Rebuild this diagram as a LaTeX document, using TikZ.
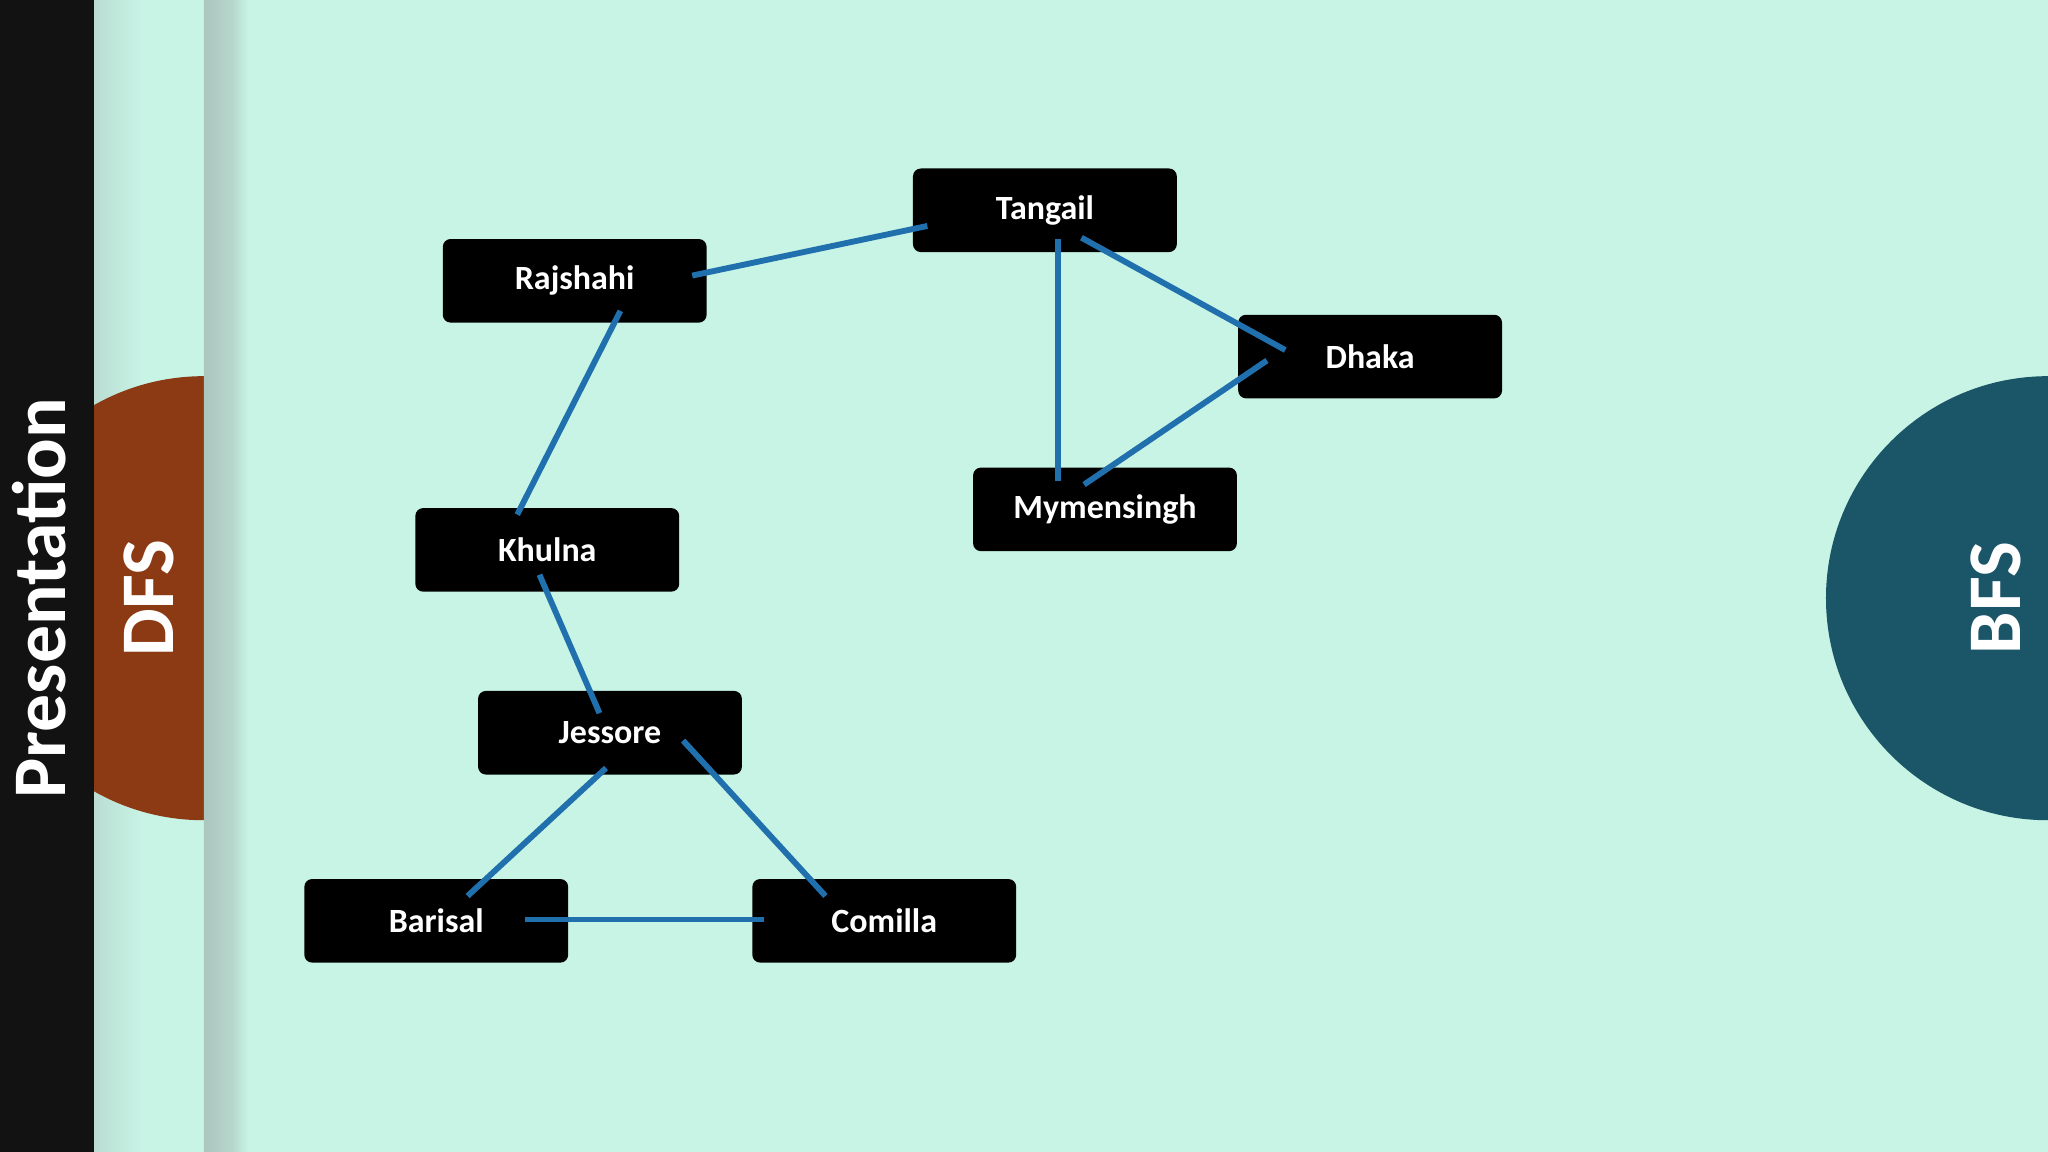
\documentclass[tikz,border=0pt]{standalone}
\usepackage{fontspec}
\setmainfont{Carlito}
\usetikzlibrary{calc}
\definecolor{bg}{HTML}{C8F4E6}
\definecolor{brn}{HTML}{8B3A14}
\definecolor{tealc}{HTML}{1B5568}
\definecolor{edge}{HTML}{2170AE}
\begin{document}
\begin{tikzpicture}[x=1pt,y=-1pt,
  city/.style={fill=black,text=white,rounded corners=6pt,minimum width=202pt,minimum height=64pt,font=\fontsize{26}{30}\selectfont\bfseries,inner sep=0pt},
  link/.style={edge,line width=4.5pt}]
\useasboundingbox (0,0) rectangle (1568,882);
\fill[bg] (0,0) rectangle (1568,882);
\shade[left color=bg!80!gray, right color=bg] (72,0) rectangle (110,882);
\begin{scope}
\clip (72,0) rectangle (156,882);
\fill[brn] (156,458) circle (170);
\end{scope}
\shade[left color=bg!60!gray, right color=bg!75!gray] (156,0) rectangle (178,882);
\shade[left color=bg!75!gray, right color=bg] (178,0) rectangle (190,882);
\fill[black!93] (0,0) rectangle (72,882);
\fill[tealc] (1568,458) circle (170);
\node[rotate=90,text=white,font=\fontsize{58}{64}\selectfont\bfseries] (pres) at (30,458) {Presentation};
\node[rotate=90,text=white,font=\fontsize{58}{64}\selectfont\bfseries] (dfs) at (114,458) {DFS};
\node[rotate=90,text=white,font=\fontsize{58}{64}\selectfont\bfseries] (bfs) at (1528,458) {BFS};
\node[city] (tan) at (800,161) {Tangail};
\node[city] (raj) at (440,215) {Rajshahi};
\node[city] (dha) at (1049,273) {Dhaka};
\node[city] (mym) at (846,390) {Mymensingh};
\node[city] (khu) at (419,421) {Khulna};
\node[city] (jes) at (467,561) {Jessore};
\node[city] (bar) at (334,705) {Barisal};
\node[city] (com) at (677,705) {Comilla};
\draw[link] ([shift={(90,-4)}]raj.center) -- ([shift={(-90,12)}]tan.center);
\draw[link] ([shift={(10,22)}]tan.center) -- ([shift={(-36,-22)}]mym.center);
\draw[link] ([shift={(28,21)}]tan.center) -- ([shift={(-65,-5)}]dha.center);
\draw[link] ([shift={(-79,3)}]dha.center) -- ([shift={(-16,-19)}]mym.center);
\draw[link] ([shift={(35,23)}]raj.center) -- ([shift={(-23,-27)}]khu.center);
\draw[link] ([shift={(-6,19)}]khu.center) -- ([shift={(-8,-15)}]jes.center);
\draw[link] ([shift={(-3,27)}]jes.center) -- ([shift={(24,-19)}]bar.center);
\draw[link] ([shift={(56,6)}]jes.center) -- ([shift={(-45,-19)}]com.center);
\draw[link] ([shift={(68,-1)}]bar.center) -- ([shift={(-92,-1)}]com.center);
\end{tikzpicture}
\end{document}
